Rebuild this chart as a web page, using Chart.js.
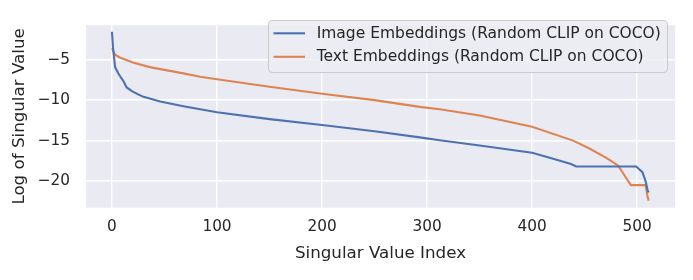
<!DOCTYPE html>
<html>
<head>
<meta charset="utf-8">
<script src="https://cdn.jsdelivr.net/npm/chart.js@4"></script>
<style>
  html, body { margin: 0; padding: 0; background: #ffffff; }
  #wrap { width: 693px; height: 280px; position: relative; }
</style>
</head>
<body>
<div id="wrap"><canvas id="c" width="693" height="280"></canvas></div>
<script>
// ---- data ----
const imgLabel = "Image Embeddings (Random CLIP on COCO)";
const txtLabel = "Text Embeddings (Random CLIP on COCO)";
const imgIdx  = [0, 1, 3, 6, 9, 11, 14, 19, 25, 30, 46, 68, 84, 100, 150, 200, 250, 293, 312, 350, 400, 420, 437, 442, 499, 505, 508, 510, 511];
const imgVals = [-1.56, -3.5, -5.93, -6.7, -7.3, -7.67, -8.44, -8.9, -9.3, -9.6, -10.18, -10.76, -11.14, -11.5, -12.35, -13.08, -13.85, -14.6, -14.95, -15.6, -16.5, -17.25, -17.9, -18.2, -18.2, -18.9, -20.0, -21.2, -21.4];
const txtIdx  = [0, 3, 8, 20, 36, 68, 84, 100, 150, 200, 250, 293, 312, 350, 400, 439, 455, 471, 482, 488, 494, 508, 510, 511];
const txtVals = [-3.61, -4.39, -4.77, -5.35, -5.93, -6.7, -7.12, -7.42, -8.35, -9.21, -10.0, -10.84, -11.14, -11.9, -13.3, -15.0, -16.0, -17.15, -18.1, -19.3, -20.5, -20.5, -22.0, -22.4];
const xTicks = [0, 100, 200, 300, 400, 500];
const yTicks = [-5, -10, -15, -20];
const xTitle = "Singular Value Index";
const yTitle = "Log of Singular Value";

const FONT = "'DejaVu Sans', sans-serif";
const TXT = "#262626";

const legendPlugin = {
  id: 'mplLegend',
  afterDatasetsDraw(chart) {
    const ctx = chart.ctx;
    const x0 = 268.5, y0 = 20.5, w = 399, h = 52;
    ctx.save();
    ctx.beginPath();
    if (ctx.roundRect) ctx.roundRect(x0, y0, w, h, 4); else ctx.rect(x0, y0, w, h);
    ctx.fillStyle = 'rgba(236,236,243,0.85)';
    ctx.fill();
    ctx.strokeStyle = '#cccccc';
    ctx.lineWidth = 1.1;
    ctx.stroke();
    const rows = [33.3, 56.8];
    chart.data.datasets.forEach((ds, i) => {
      const y = rows[i];
      ctx.beginPath();
      ctx.moveTo(273.5, y);
      ctx.lineTo(305, y);
      ctx.strokeStyle = ds.borderColor;
      ctx.lineWidth = 2.1;
      ctx.stroke();
      ctx.fillStyle = TXT;
      ctx.font = "15.5px " + FONT;
      ctx.textBaseline = 'middle';
      ctx.textAlign = 'left';
      ctx.fillText(ds.label, 316.7, y + 0.5);
    });
    ctx.restore();
  }
};

const bgPlugin = {
  id: 'plotBg',
  beforeDraw(chart) {
    const a = chart.chartArea, ctx = chart.ctx;
    ctx.save();
    ctx.fillStyle = '#ffffff';
    ctx.fillRect(0, 0, chart.width, chart.height);
    ctx.fillStyle = '#eaeaf2';
    ctx.fillRect(a.left, a.top, a.right - a.left, a.bottom - a.top);
    ctx.restore();
  }
};

new Chart(document.getElementById('c'), {
  type: 'line',
  data: {
    datasets: [
      { label: imgLabel, data: imgIdx.map((x, i) => ({ x, y: imgVals[i] })),
        borderColor: '#4c72b0', borderWidth: 2.1, pointRadius: 0, tension: 0, fill: false },
      { label: txtLabel, data: txtIdx.map((x, i) => ({ x, y: txtVals[i] })),
        borderColor: '#dd8452', borderWidth: 2.1, pointRadius: 0, tension: 0, fill: false }
    ]
  },
  options: {
    responsive: false,
    animation: false,
    events: [],
    layout: { padding: { left: 0, right: 18, top: 14, bottom: 0 } },
    plugins: { legend: { display: false }, tooltip: { enabled: false } },
    scales: {
      x: {
        type: 'linear', min: -24.7, max: 536,
        afterBuildTicks: s => { s.ticks = xTicks.map(v => ({ value: v })); },
        afterFit: s => { s.height = 280 - 207.7; },
        grid: { color: '#ffffff', lineWidth: 1.4, drawTicks: false },
        border: { display: false },
        ticks: { color: TXT, font: { family: FONT, size: 15.3 }, padding: 10, maxRotation: 0,
                 callback: v => String(v) },
        title: { display: true, text: xTitle, color: TXT, font: { family: FONT, size: 16.7 },
                 padding: { top: 0, bottom: 16 } }
      },
      y: {
        type: 'linear', min: -23.28, max: -0.756,
        afterBuildTicks: s => { s.ticks = yTicks.map(v => ({ value: v })); },
        afterFit: s => { s.width = 86; },
        grid: { color: '#ffffff', lineWidth: 1.4, drawTicks: false },
        border: { display: false },
        ticks: { color: TXT, font: { family: FONT, size: 15.3 }, padding: 16,
                 callback: v => (v < 0 ? '\u2212' + Math.abs(v) : String(v)) },
        title: { display: true, text: yTitle, color: TXT, font: { family: FONT, size: 16.7 },
                 padding: { top: 10, bottom: 0 } }
      }
    }
  },
  plugins: [bgPlugin, legendPlugin]
});
</script>
</body>
</html>
